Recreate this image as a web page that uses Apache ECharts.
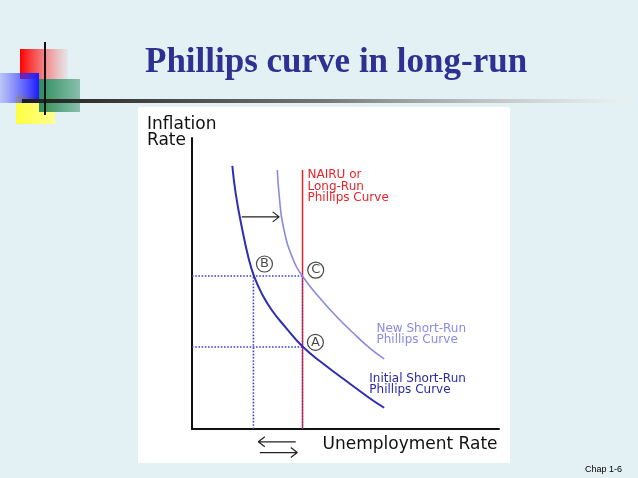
<!DOCTYPE html>
<html><head><meta charset="utf-8">
<script src="https://cdn.jsdelivr.net/npm/echarts@6/dist/echarts.min.js"></script>
<style>html,body{margin:0;padding:0;background:#e3f1f4;}#c{width:638px;height:478px;}</style>
</head><body><div id="c"></div>
<script>
// ---- data (abstract units: unemployment 0-10, inflation 0-10) ----
const initialCurve = [[1.313,9.04],[1.423,8.10],[1.619,6.95],[1.857,5.81],[2.029,5.23],[2.27,4.66],[2.596,4.09],[3.029,3.52],[3.60,2.835],[4.33,2.20],[5.09,1.60],[5.80,1.05],[6.26,0.73]];
const newCurve = [[2.779,8.90],[2.834,8.10],[2.974,6.95],[3.30,5.81],[3.60,5.25],[4.17,4.49],[4.66,3.92],[5.20,3.35],[5.80,2.77],[6.26,2.41]];
const nairu = 3.6;
const nairuTop = 8.9;
const inflationA = 2.82;
const inflationBC = 5.26;
const unemploymentB = 2.0;
const pointNames = ['A','B','C'];
const pointLabelAt = [[4.02,2.98],[2.36,5.67],[4.03,5.46]];
const arrowFrom = [[1.62,7.29],[-0.42,3.47],[3.38,-0.44],[2.21,-0.81]];
const arrowTo   = [[2.84,7.29],[-0.42,4.67],[2.16,-0.44],[3.43,-0.81]];
const xRange = [0,10], yRange = [0,10];

// ---- layout ----
const G = {left:192, top:138, width:307, height:291};
const SX = G.width/(xRange[1]-xRange[0]), SY = G.height/(yRange[1]-yRange[0]);

function arrowPath(f,t){
  const dx=(t[0]-f[0])*SX, dy=(t[1]-f[1])*SY, L=Math.hypot(dx,dy);
  const ux=dx/L, uy=dy/L, back=6.5, half=5;
  const h1=[t[0]+(-ux*back - uy*half)/SX, t[1]+(-uy*back + ux*half)/SY];
  const h2=[t[0]+(-ux*back + uy*half)/SX, t[1]+(-uy*back - ux*half)/SY];
  return [f,t,h1,t,h2];
}
function lineSeries(data,color,width,type,extra){
  return Object.assign({type:'line',data:data,symbol:'none',silent:true,clip:false,smooth:false,
    lineStyle:{color:color,width:width,type:type||'solid'},z:2},extra||{});
}
const dotted='#4040dc';
const series=[
  lineSeries([[0,inflationBC],[nairu,inflationBC]],dotted,1.6,'dotted'),
  lineSeries([[0,inflationA],[nairu,inflationA]],dotted,1.6,'dotted'),
  lineSeries([[unemploymentB,0],[unemploymentB,inflationBC]],dotted,1.6,'dotted'),
  lineSeries([[nairu,0],[nairu,nairuTop]],'#e0262b',1.5),
  lineSeries([[nairu,0],[nairu,inflationBC]],'#3a3ae0',1.5,'dotted',{lineStyle:{color:'#3a3ae0',width:1.5,type:'dotted',opacity:0.6}}),
  lineSeries(newCurve,'#8a8ae0',1.6,'solid',{smooth:0.5,z:3}),
  lineSeries(initialCurve,'#2d2db8',2,'solid',{smooth:0.5,z:3}),
];
arrowFrom.forEach((f,i)=>series.push(lineSeries(arrowPath(f,arrowTo[i]),'#222',1.2)));
series.push({type:'scatter',silent:true,z:4,clip:false,symbol:'circle',symbolSize:16,
  data:pointLabelAt.map((p,i)=>({name:pointNames[i],value:p})),
  itemStyle:{color:'rgba(255,255,255,0)',borderColor:'#1a1a1a',borderWidth:1.2},
  label:{show:true,position:'inside',formatter:'{b}',color:'#1a1a1a',fontSize:13,fontFamily:'DejaVu Sans'}});

function txt(x,y,text,font,fill,va,lh){
  return {type:'text',x:x,y:y,z:10,silent:true,style:{text:text,font:font,fill:fill,verticalAlign:va||'middle',lineHeight:lh}};
}
function grad(x,y,w,h,c1,c2){
  return {type:'rect',shape:{x:x,y:y,width:w,height:h},silent:true,z:-5,
    style:{fill:new echarts.graphic.LinearGradient(0,0,1,0,[{offset:0,color:c1},{offset:1,color:c2}])}};
}
const graphic=[
  {type:'rect',shape:{x:138,y:107,width:372,height:356},style:{fill:'#ffffff'},z:-10,silent:true},
  grad(16,95,39,29,'#ffff40','#ffff90'),
  grad(20,49,48,30,'#ff0000','rgba(255,60,60,0.05)'),
  grad(39,79,41,33,'#2e8b5e','rgba(60,150,110,0.55)'),
  grad(0,73,39,30,'rgba(70,70,255,0.25)','#1a1aff'),
  {type:'rect',shape:{x:22,y:99,width:608,height:4},silent:true,z:-4,
    style:{fill:new echarts.graphic.LinearGradient(0,0,1,0,[{offset:0,color:'#1e1e1e'},{offset:0.5,color:'#777777'},{offset:1,color:'rgba(240,240,240,0.6)'}])}},
  {type:'rect',shape:{x:44,y:42,width:2,height:73},style:{fill:'#111'},z:-3,silent:true},
  txt(145,63,'Phillips curve in long-run','bold 35px "Liberation Serif"','#2e3192'),
  txt(585,470,'Chap 1-6','9px "Liberation Sans"','#000'),
  txt(147,116.5,'Inflation\nRate','17px "DejaVu Sans"','#111','top',16.3),
  txt(322.5,444.5,'Unemployment Rate','17px "DejaVu Sans"','#111'),
  txt(307.5,169.2,'NAIRU or\nLong-Run\nPhillips Curve','12px "DejaVu Sans"','#e8242a','top',11.5),
  txt(376.5,322.7,'New Short-Run\nPhillips Curve','12px "DejaVu Sans"','#8a8ae6','top',11.7),
  txt(369.3,372.9,'Initial Short-Run\nPhillips Curve','12px "DejaVu Sans"','#2a2aa8','top',11.6),
];
const axisCommon={type:'value',axisTick:{show:false},axisLabel:{show:false},splitLine:{show:false},
  axisLine:{show:true,onZero:false,lineStyle:{color:'#111',width:2}}};
const chart=echarts.init(document.getElementById('c'),null,{renderer:'canvas'});
chart.setOption({
  backgroundColor:'#e3f1f4',animation:false,
  grid:G,
  xAxis:Object.assign({min:xRange[0],max:xRange[1]},axisCommon),
  yAxis:Object.assign({min:yRange[0],max:yRange[1]},axisCommon),
  graphic:graphic,
  series:series
});
</script></body></html>
